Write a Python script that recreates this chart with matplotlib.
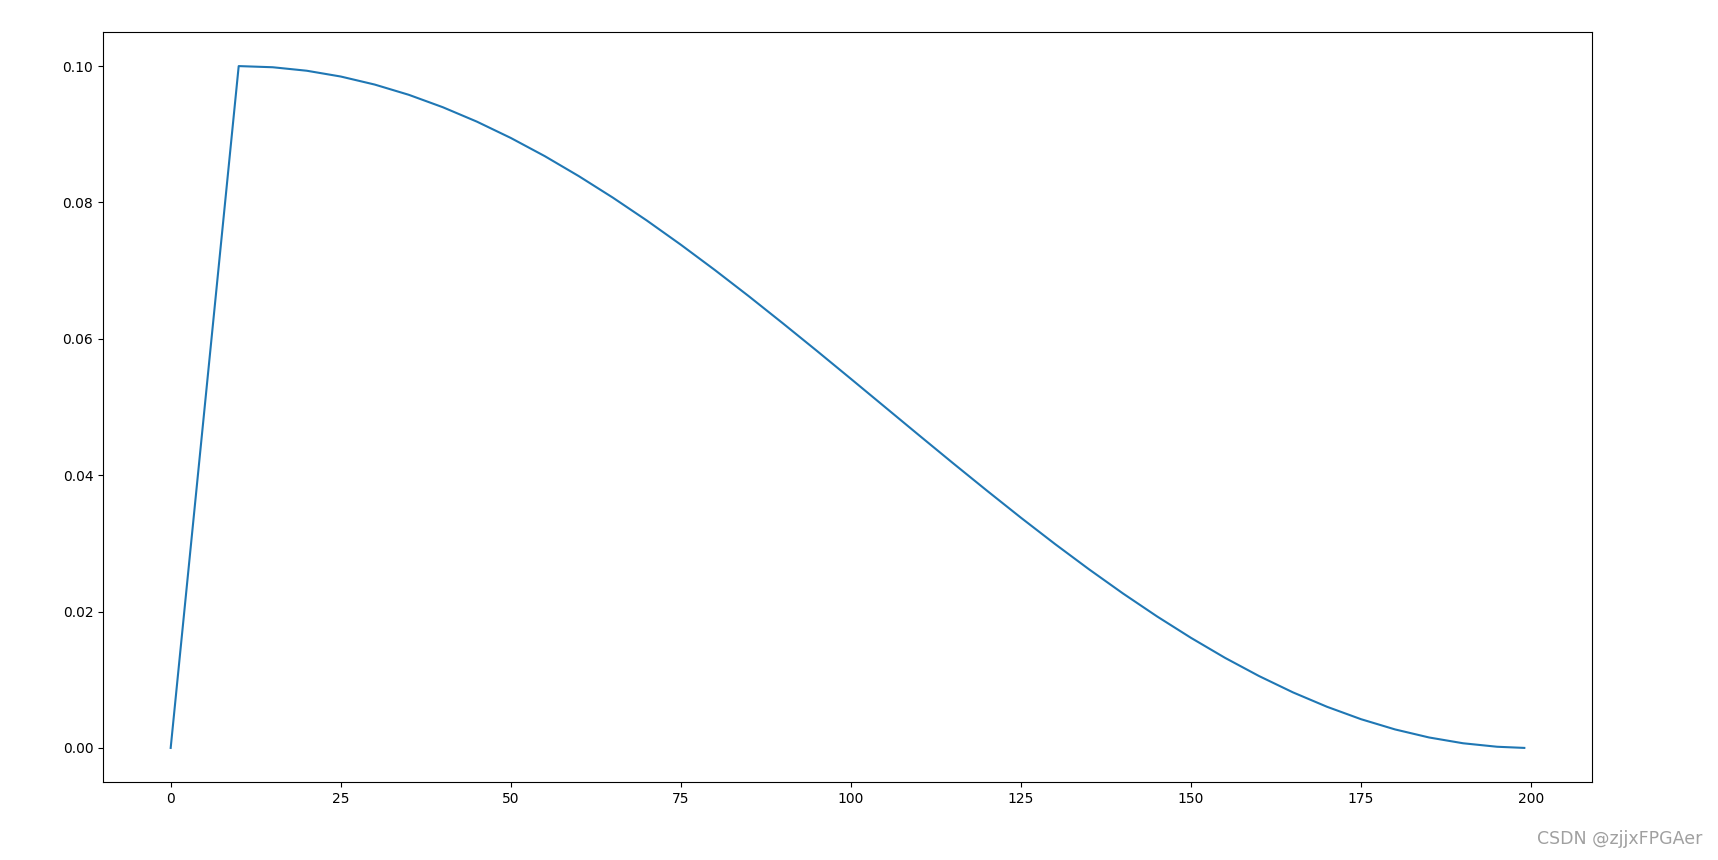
import matplotlib
matplotlib.use("Agg")
import matplotlib.pyplot as plt

# learning rate per epoch (warmup then cosine decay)
epochs = [0, 10, 15, 20, 25, 30, 35, 40, 45, 50, 55, 60, 65, 70, 75, 80, 85, 90, 95,
          100, 105, 110, 115, 120, 125, 130, 135, 140, 145, 150, 155, 160, 165,
          170, 175, 180, 185, 190, 195, 199]
lr = [0.0, 0.1, 0.09983, 0.09932, 0.09847, 0.09729, 0.09579, 0.09397, 0.09186,
      0.08946, 0.08679, 0.08386, 0.08071, 0.07735, 0.07380, 0.07009, 0.06624,
      0.06227, 0.05823, 0.05413, 0.05, 0.04587, 0.04177, 0.03773, 0.03376,
      0.02991, 0.02620, 0.02265, 0.01929, 0.01614, 0.01321, 0.01054, 0.00814,
      0.00603, 0.00421, 0.00271, 0.00153, 0.00068, 0.00017, 0.0]

fig = plt.figure(figsize=(17.18, 8.6), dpi=100)
ax = fig.add_axes([103 / 1718, 78 / 860, 1489 / 1718, 750 / 860])
ax.plot(epochs, lr, color='#1f77b4', linewidth=1.5)
ax.set_xticks([0, 25, 50, 75, 100, 125, 150, 175, 200])
ax.set_yticks([0.0, 0.02, 0.04, 0.06, 0.08, 0.10])

fig.text(1702 / 1718, 1 - 839 / 860, 'CSDN @zjjxFPGAer', ha='right', va='center',
         fontsize=12.5, color='#a0a0a0')

fig.savefig('out.png', dpi=100)
